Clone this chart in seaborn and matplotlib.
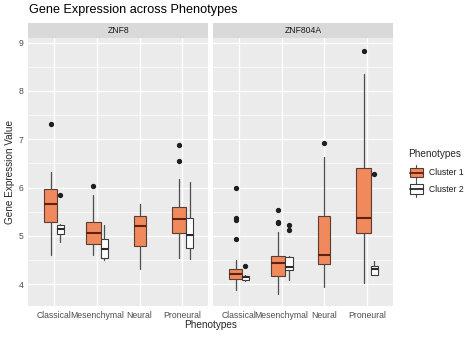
import matplotlib
matplotlib.use("Agg")
import matplotlib.pyplot as plt
import seaborn as sns
from matplotlib.legend_handler import HandlerBase
from matplotlib.patches import Rectangle
from matplotlib.lines import Line2D

# ---------------------------------------------------------------- data
phenotypes = ["Classical", "Mesenchymal", "Neural", "Proneural"]
genes = ["ZNF8", "ZNF804A"]
clusters = ["Cluster 1", "Cluster 2"]
y_ticks = [4, 5, 6, 7, 8, 9]

# Box summaries, one entry per phenotype (None = cluster absent)
znf8_c1_low = [4.60, 4.60, 4.32, 4.54]
znf8_c1_q1 = [5.29, 4.84, 4.79, 5.07]
znf8_c1_med = [5.67, 5.06, 5.20, 5.34]
znf8_c1_q3 = [5.97, 5.29, 5.42, 5.60]
znf8_c1_high = [6.32, 5.85, 5.66, 6.18]
znf8_c1_out = [[7.32], [6.04], [], [6.88, 6.54]]

znf8_c2_low = [4.88, 4.50, None, 4.52]
znf8_c2_q1 = [5.04, 4.54, None, 4.74]
znf8_c2_med = [5.14, 4.72, None, 5.02]
znf8_c2_q3 = [5.22, 4.93, None, 5.38]
znf8_c2_high = [5.24, 5.22, None, 6.12]
znf8_c2_out = [[5.84], [], [], []]

znf804a_c1_low = [3.88, 3.80, 3.94, 4.02]
znf804a_c1_q1 = [4.11, 4.16, 4.41, 5.07]
znf804a_c1_med = [4.21, 4.44, 4.60, 5.38]
znf804a_c1_q3 = [4.31, 4.58, 5.42, 6.40]
znf804a_c1_high = [4.51, 5.09, 6.63, 8.35]
znf804a_c1_out = [[5.99, 5.38, 5.33, 4.94], [5.53, 5.29, 5.26], [6.93], [8.83]]

znf804a_c2_low = [4.07, 4.08, None, 4.19]
znf804a_c2_q1 = [4.09, 4.29, None, 4.20]
znf804a_c2_med = [4.14, 4.36, None, 4.31]
znf804a_c2_q3 = [4.18, 4.56, None, 4.38]
znf804a_c2_high = [4.19, 4.58, None, 4.47]
znf804a_c2_out = [[4.38], [5.23, 5.12], [], [6.29]]

summaries = {
    ("ZNF8", "Cluster 1"): (znf8_c1_low, znf8_c1_q1, znf8_c1_med, znf8_c1_q3, znf8_c1_high, znf8_c1_out),
    ("ZNF8", "Cluster 2"): (znf8_c2_low, znf8_c2_q1, znf8_c2_med, znf8_c2_q3, znf8_c2_high, znf8_c2_out),
    ("ZNF804A", "Cluster 1"): (znf804a_c1_low, znf804a_c1_q1, znf804a_c1_med, znf804a_c1_q3, znf804a_c1_high, znf804a_c1_out),
    ("ZNF804A", "Cluster 2"): (znf804a_c2_low, znf804a_c2_q1, znf804a_c2_med, znf804a_c2_q3, znf804a_c2_high, znf804a_c2_out),
}

# ---------------------------------------------------------------- style
# box widths scale with group size (varwidth-style), per phenotype
box_widths = {"Cluster 1": [0.30, 0.35, 0.28, 0.34], "Cluster 2": [0.15, 0.17, 0.0, 0.16]}
fills = {"Cluster 1": "#F08A5D", "Cluster 2": "#FFFFFF"}
edges = {"Cluster 1": "#5A3C33", "Cluster 2": "#3A3A3A"}
medians = {"Cluster 1": "#5C2410", "Cluster 2": "#2A2A2A"}

sns.set_theme(style="darkgrid", rc={
    "axes.facecolor": "#EBEBEB",
    "grid.color": "white",
})
plt.rcParams["font.family"] = ["Liberation Sans", "DejaVu Sans"]

W, H = 474, 338
fig = plt.figure(figsize=(W / 100, H / 100), dpi=100)
fig.patch.set_facecolor("white")


def fx(px):
    return px / W


def fy(py):
    return 1 - py / H


panel_top, panel_bot, strip_top = 38.3, 305.7, 22.7
panel_x = [(28.3, 208.0), (213.3, 392.7)]
axes = []
for (x0, x1), gene in zip(panel_x, genes):
    ax = fig.add_axes([fx(x0), fy(panel_bot), fx(x1 - x0), (panel_bot - panel_top) / H])
    axes.append(ax)
    st = fig.add_axes([fx(x0), fy(panel_top), fx(x1 - x0), (panel_top - strip_top) / H])
    st.set_facecolor("#D9D9D9")
    st.set_xticks([])
    st.set_yticks([])
    st.grid(False)
    for s in st.spines.values():
        s.set_visible(False)
    st.text(0.5, 0.5, gene, ha="center", va="center", fontsize=6.2, color="#1A1A1A",
            transform=st.transAxes)

for ax, gene in zip(axes, genes):
    for cl in clusters:
        lo, q1, med, q3, hi, out = summaries[(gene, cl)]
        other = "Cluster 2" if cl == "Cluster 1" else "Cluster 1"
        o_med = summaries[(gene, other)][2]
        stats, pos, wid = [], [], []
        for i in range(len(phenotypes)):
            if med[i] is None:
                continue
            w = box_widths[cl][i]
            # pair of boxes sits side by side, centred on the category
            if o_med[i] is None:
                center = i
            elif cl == "Cluster 1":
                center = i - box_widths[other][i] / 2
            else:
                center = i + box_widths[other][i] / 2
            stats.append(dict(whislo=lo[i], q1=q1[i], med=med[i], q3=q3[i], whishi=hi[i],
                              fliers=out[i]))
            pos.append(center)
            wid.append(w)
        ax.bxp(stats, positions=pos, widths=wid, patch_artist=True, showcaps=False,
               manage_ticks=False,
               boxprops=dict(facecolor=fills[cl], edgecolor=edges[cl], linewidth=0.8),
               medianprops=dict(color=medians[cl], linewidth=1.5, solid_capstyle="butt"),
               whiskerprops=dict(color="#4D4D4D", linewidth=0.9),
               flierprops=dict(marker="o", markerfacecolor="#1F1F1F", markeredgecolor="#1F1F1F",
                               markersize=2.8, linestyle="none"))

    ax.set_xlim(-0.6, len(phenotypes) - 0.4)
    ax.set_ylim(3.555, 9.09)
    ax.set_xticks(range(len(phenotypes)))
    ax.set_xticklabels(phenotypes)
    ax.set_yticks(y_ticks)
    ax.set_yticks([t + 0.5 for t in y_ticks[:-1]], minor=True)
    ax.set_axisbelow(True)
    ax.grid(which="major", color="white", linewidth=1.0)
    ax.grid(which="minor", axis="y", color="white", linewidth=0.5)
    ax.grid(which="minor", axis="x", visible=False)
    for s in ax.spines.values():
        s.set_visible(False)
    ax.tick_params(axis="both", which="major", length=2.0, width=0.6, color="#333333",
                   labelcolor="#4D4D4D", labelsize=6.2, pad=1.5)
    ax.tick_params(which="minor", length=0)
    ax.set_xlabel("")
    ax.set_ylabel("")

axes[1].tick_params(axis="y", left=False, labelleft=False)

fig.text(fx(29), fy(10), "Gene Expression across Phenotypes", fontsize=9.1, color="black",
         ha="left", va="center")
fig.text(fx(210.5), fy(325), "Phenotypes", fontsize=7.2, ha="center", va="center")
fig.text(fx(10), fy(172), "Gene Expression Value", fontsize=7.2, rotation=90,
         ha="center", va="center")


class BoxKey:
    def __init__(self, fill, edge, median):
        self.fill, self.edge, self.median = fill, edge, median


class BoxKeyHandler(HandlerBase):
    def create_artists(self, legend, orig_handle, xdescent, ydescent, width, height,
                       fontsize, trans):
        x0, y0 = -xdescent, -ydescent
        cx = x0 + width / 2
        b0, b1 = 0.22, 0.78
        rect = Rectangle((x0 + 0.1 * width, y0 + b0 * height), 0.8 * width, (b1 - b0) * height,
                         facecolor=orig_handle.fill, edgecolor=orig_handle.edge,
                         linewidth=0.8, transform=trans)
        w_lo = Line2D([cx, cx], [y0 + 0.02 * height, y0 + b0 * height], color="#4D4D4D",
                      linewidth=0.8, transform=trans)
        w_hi = Line2D([cx, cx], [y0 + b1 * height, y0 + 0.98 * height], color="#4D4D4D",
                      linewidth=0.8, transform=trans)
        med = Line2D([x0 + 0.1 * width, x0 + 0.9 * width], [y0 + height / 2] * 2,
                     color=orig_handle.median, linewidth=1.3, transform=trans)
        return [w_lo, w_hi, rect, med]


# legend: title as its own text, keys below it
fig.text(fx(408.3), fy(154.5), "Phenotypes", fontsize=7.2, ha="left", va="center")
keys = [BoxKey(fills[c], edges[c], medians[c]) for c in clusters]
leg = fig.legend(keys, clusters, loc="upper left",
                 bbox_to_anchor=(fx(408.3), fy(164.5)), frameon=False, fontsize=6.2,
                 handlelength=1.9, handleheight=2.535, labelspacing=0.0,
                 handletextpad=0.53, borderpad=0, borderaxespad=0,
                 handler_map={BoxKey: BoxKeyHandler()})
for t in leg.get_texts():
    t.set_color("#1A1A1A")

fig.savefig("out.png", dpi=100)
